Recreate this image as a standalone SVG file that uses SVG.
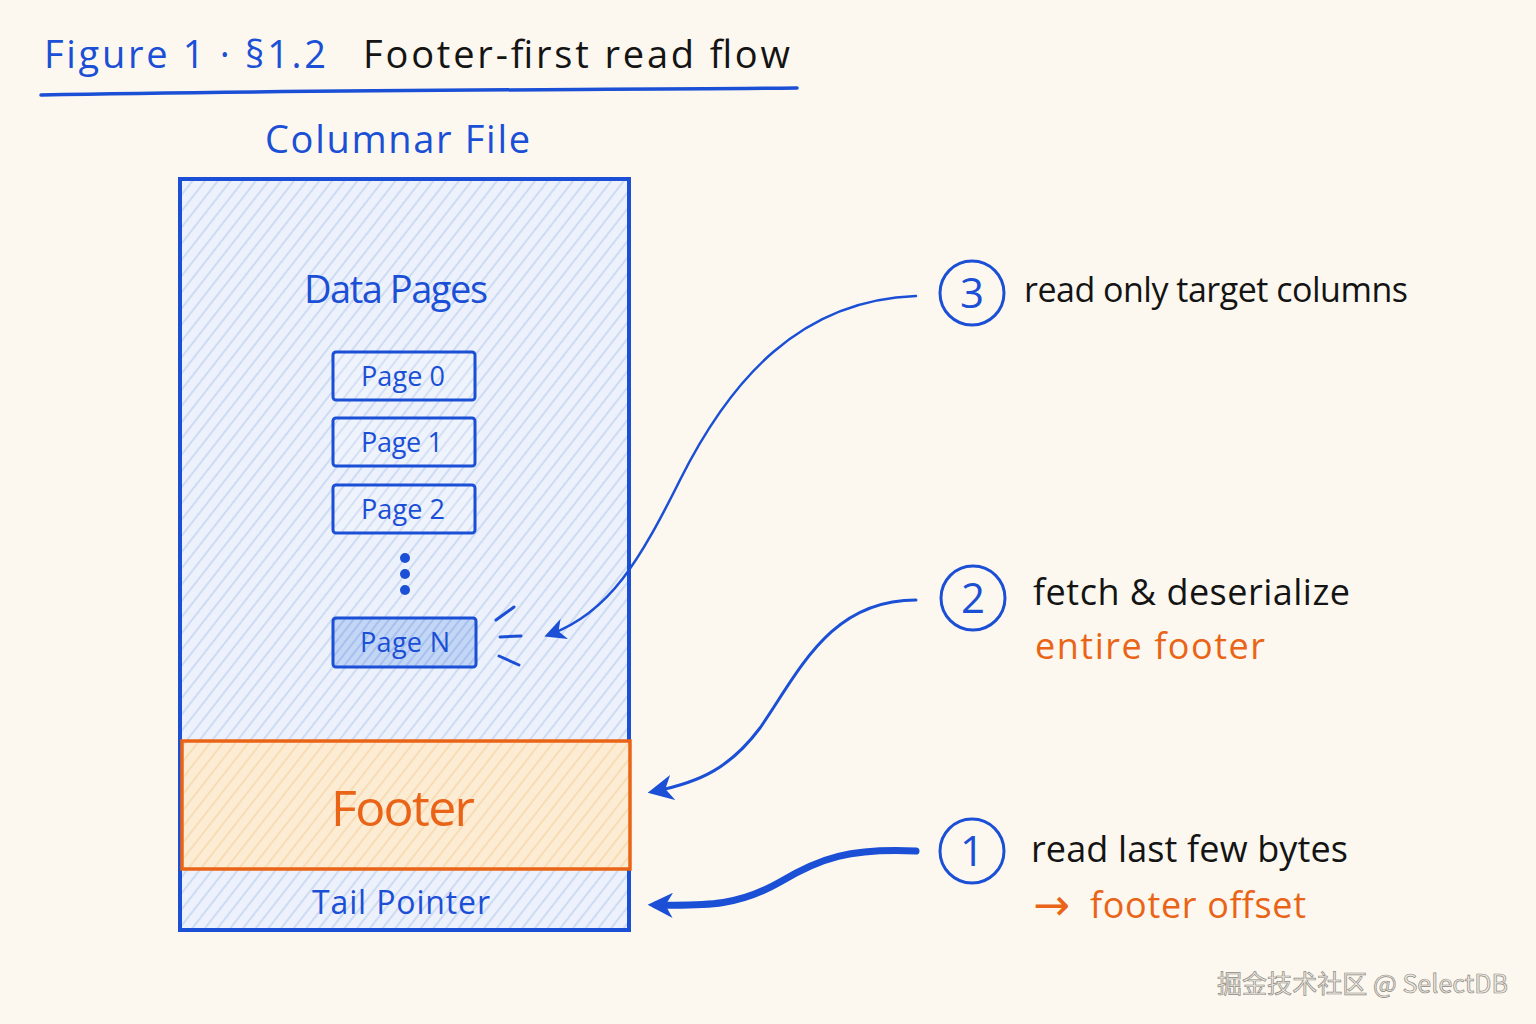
<svg xmlns="http://www.w3.org/2000/svg" width="1536" height="1024" viewBox="0 0 1536 1024">
<style>
.hand{font-family:"Open Sans","Noto Sans","Liberation Sans",sans-serif;}
.blue{fill:#1a4fd6;}
.ink{fill:#141414;}
.orange{fill:#ea6418;}
.box{stroke:#1a4fd6;stroke-width:3;}
.conn{fill:none;stroke:#1a4fd6;stroke-linecap:round;}
.circ{fill:none;stroke:#1a4fd6;stroke-width:3;}
</style>
<defs>
<pattern id="hatchBlue" width="10" height="10" patternUnits="userSpaceOnUse" patternTransform="rotate(-52)">
<rect width="10" height="10" fill="#ecf1fb"/>
<line x1="0" y1="3" x2="10" y2="3" stroke="#c6d6f2" stroke-width="1.6"/>
</pattern>
<pattern id="hatchPage" width="9" height="9" patternUnits="userSpaceOnUse" patternTransform="rotate(-52)">
<rect width="9" height="9" fill="#eef3fc"/>
<line x1="0" y1="3" x2="9" y2="3" stroke="#cbd9f3" stroke-width="1.4"/>
</pattern>
<pattern id="hatchPageN" width="7" height="7" patternUnits="userSpaceOnUse" patternTransform="rotate(-52)">
<rect width="7" height="7" fill="#c3d6f5"/>
<line x1="0" y1="2" x2="7" y2="2" stroke="#9ab9ec" stroke-width="1.4"/>
</pattern>
<pattern id="hatchOrange" width="10" height="10" patternUnits="userSpaceOnUse" patternTransform="rotate(-52)">
<rect width="10" height="10" fill="#fcecd4"/>
<line x1="0" y1="3" x2="10" y2="3" stroke="#f7d8ad" stroke-width="1.6"/>
</pattern>
<marker id="arrow" viewBox="0 0 12 12" refX="8" refY="6" markerWidth="8.5" markerHeight="8.5" orient="auto" markerUnits="strokeWidth">
<path d="M0,0 L12,6 L0,12 L3.5,6 Z" fill="#1a4fd6"/>
</marker>
<marker id="arrowThick" viewBox="0 0 12 12" refX="8" refY="6" markerWidth="3.6" markerHeight="3.6" orient="auto" markerUnits="strokeWidth">
<path d="M0,0 L12,6 L0,12 L3.5,6 Z" fill="#1a4fd6"/>
</marker>
</defs>
<rect width="1536" height="1024" fill="#fcf8ef"/>

<g id="title">
<text x="44" y="68" class="hand blue" font-size="38" textLength="282" lengthAdjust="spacing">Figure 1 · §1.2</text>
<text x="363" y="68" class="hand ink" font-size="38" textLength="427" lengthAdjust="spacing">Footer-first read flow</text>
<path d="M41,95 C300,90 560,90 797,88" fill="none" stroke="#1a4fd6" stroke-width="3.5" stroke-linecap="round"/>
</g>

<g id="columnar-file">
<text x="265" y="153" class="hand blue" font-size="38" textLength="265" lengthAdjust="spacing">Columnar File</text>
<rect x="180" y="179" width="449" height="751" fill="url(#hatchBlue)" stroke="#1a4fd6" stroke-width="4"/>
</g>

<g id="data-pages">
<text x="304" y="303" class="hand blue" font-size="38" textLength="184" lengthAdjust="spacing">Data Pages</text>
</g>

<g id="page-0">
<rect x="333" y="352" width="142" height="48" rx="3" fill="url(#hatchPage)" class="box"/>
<text x="361" y="386" class="hand blue" font-size="27" textLength="84" lengthAdjust="spacing">Page 0</text>
</g>
<g id="page-1">
<rect x="333" y="418" width="142" height="48" rx="3" fill="url(#hatchPage)" class="box"/>
<text x="361" y="452" class="hand blue" font-size="27" textLength="82" lengthAdjust="spacing">Page 1</text>
</g>
<g id="page-2">
<rect x="333" y="485" width="142" height="48" rx="3" fill="url(#hatchPage)" class="box"/>
<text x="361" y="519" class="hand blue" font-size="27" textLength="84" lengthAdjust="spacing">Page 2</text>
</g>
<g id="ellipsis">
<circle cx="405" cy="558" r="5" class="blue"/>
<circle cx="405" cy="574" r="5" class="blue"/>
<circle cx="405" cy="590" r="5" class="blue"/>
</g>
<g id="page-n">
<rect x="333" y="618" width="143" height="49" rx="3" fill="url(#hatchPageN)" class="box"/>
<text x="360" y="652" class="hand blue" font-size="27" textLength="90" lengthAdjust="spacing">Page N</text>
<g stroke="#1a4fd6" stroke-width="3" stroke-linecap="round">
<line x1="496" y1="620" x2="514" y2="607"/>
<line x1="500" y1="637" x2="521" y2="636"/>
<line x1="499" y1="656" x2="519" y2="665"/>
</g>
</g>

<g id="footer">
<rect x="182" y="741" width="448" height="128" fill="url(#hatchOrange)" stroke="#ea6418" stroke-width="3.5"/>
<text x="331" y="826" class="hand orange" font-size="50" textLength="144" lengthAdjust="spacing">Footer</text>
</g>

<g id="tail-pointer">
<text x="312" y="914" class="hand blue" font-size="32" textLength="178" lengthAdjust="spacing">Tail Pointer</text>
</g>

<g id="step-3">
<circle cx="972" cy="293" r="32" class="circ"/>
<text x="972" y="308" class="hand blue" font-size="42" text-anchor="middle">3</text>
<text x="1024" y="302" class="hand ink" font-size="34" textLength="384" lengthAdjust="spacing">read only target columns</text>
</g>
<g id="step-2">
<circle cx="973" cy="598" r="32" class="circ"/>
<text x="973" y="613" class="hand blue" font-size="42" text-anchor="middle">2</text>
<text x="1033" y="605" class="hand ink" font-size="36" textLength="317" lengthAdjust="spacing">fetch &amp; deserialize</text>
<text x="1035" y="659" class="hand orange" font-size="36" textLength="230" lengthAdjust="spacing">entire footer</text>
</g>
<g id="step-1">
<circle cx="972" cy="851" r="32" class="circ"/>
<text x="972" y="866" class="hand blue" font-size="42" text-anchor="middle">1</text>
<text x="1031" y="862" class="hand ink" font-size="36" textLength="317" lengthAdjust="spacing">read last few bytes</text>
<text x="1033" y="918" class="hand orange" font-size="36"><tspan font-family="DejaVu Sans, sans-serif" font-size="44" dy="2">→</tspan><tspan x="1090" y="918" textLength="216" lengthAdjust="spacing">footer offset</tspan></text>
</g>

<g id="connectors">
<path class="conn" stroke-width="2.5" marker-end="url(#arrow)" d="M916,296 C800,300 730,380 680,480 C640,560 610,612 551,634"/>
<path class="conn" stroke-width="3" marker-end="url(#arrow)" d="M916,600 C830,600 800,670 760,728 C730,768 700,782 656,791"/>
<path class="conn" stroke-width="7" marker-end="url(#arrowThick)" d="M916,851 C850,848 820,858 780,882 C740,905 710,906 656,905"/>
</g>

<g id="watermark">
<text x="1217" y="993" font-family="Noto Sans CJK SC, Noto Sans, sans-serif" font-size="25" fill="#eeeae2" stroke="#8e8a84" stroke-width="0.7" textLength="291" lengthAdjust="spacing">掘金技术社区 @ SelectDB</text>
</g>
</svg>
